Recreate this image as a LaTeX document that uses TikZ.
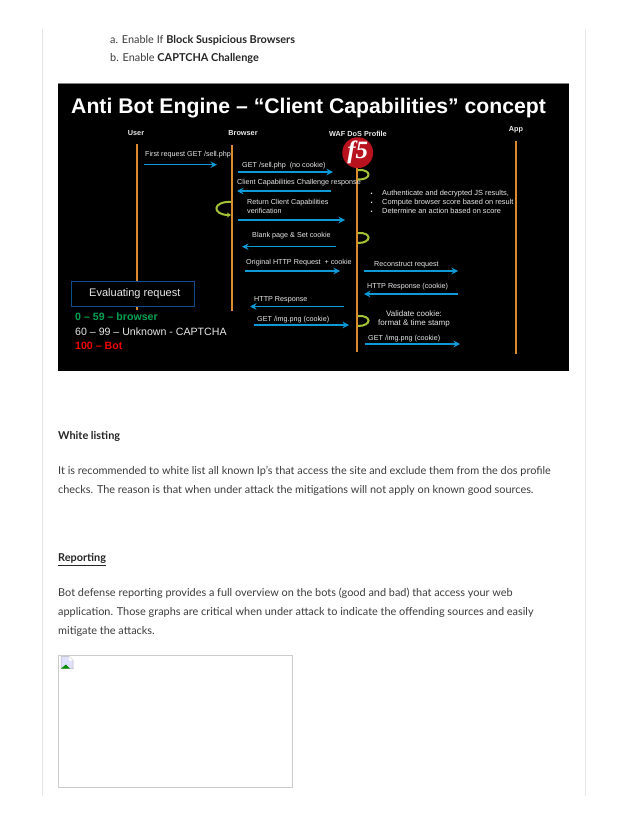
\documentclass[tikz,border=0pt]{standalone}
\usepackage{fontspec}
\setmainfont{Lato}
\newfontfamily\slidefont{Liberation Sans}
\newfontfamily\logofont{Liberation Serif}
\usepackage{xcolor}
\usetikzlibrary{arrows.meta}
\definecolor{bodygray}{HTML}{3C3C3C}
\definecolor{marginline}{HTML}{E6E6E6}
\definecolor{framegray}{HTML}{CCCCCC}
\definecolor{lifeorange}{HTML}{DB8A2E}
\definecolor{msgblue}{HTML}{0E9AD7}
\definecolor{loopgreen}{HTML}{A3C234}
\definecolor{boxblue}{HTML}{0B4C8C}
\definecolor{scoregreen}{HTML}{00A24F}
\definecolor{scorered}{HTML}{F00000}
\definecolor{logored}{HTML}{B8121F}
\definecolor{slidetext}{HTML}{E8E8E8}

\begin{document}
\begin{tikzpicture}[
    x=1pt, y=-1pt,
    bodytext/.style={anchor=base west, inner sep=0pt, text=bodygray, font=\fontsize{10.9}{13}\selectfont},
    bodyhead/.style={anchor=base west, inner sep=0pt, text=black!85, font=\fontsize{10.9}{13}\selectfont\bfseries},
    actor/.style={inner sep=0pt, text=slidetext, font=\slidefont\fontsize{7.3}{8}\selectfont\bfseries},
    msglabel/.style={anchor=base west, inner sep=0pt, text=slidetext, font=\slidefont\fontsize{7.2}{9}\selectfont},
    notelabel/.style={anchor=base west, inner sep=0pt, text=slidetext, font=\slidefont\fontsize{7.4}{9}\selectfont},
    score/.style={anchor=base west, inner sep=0pt, font=\slidefont\fontsize{10.6}{13}\selectfont},
    lifeline/.style={lifeorange, line width=2pt},
    msg/.style={-{Stealth[length=6.5pt, width=6.5pt]}, msgblue, line width=1.5pt},
    selfloop/.style={loopgreen, line width=2pt},
]
    \useasboundingbox (0,0) rectangle (638,826);
    \fill[white] (0,0) rectangle (638,826);

    % page margins
    \coordinate (marginLa) at (42.5,29);
    \coordinate (marginLb) at (42.5,796);
    \coordinate (marginRa) at (585,29);
    \coordinate (marginRb) at (585,796);
    \draw[marginline, line width=0.8pt] (marginLa) -- (marginLb);
    \draw[marginline, line width=0.8pt] (marginRa) -- (marginRb);

    % list items
    \node[bodytext] (itema) at (110,43.3) {a. Enable If \textcolor{black!85}{\bfseries Block Suspicious Browsers}};
    \node[bodytext] (itemb) at (110,62) {b. Enable \textcolor{black!85}{\bfseries CAPTCHA Challenge}};

    % slide
    \fill[black] (58,83.5) rectangle (569,371);
    \draw[gray, line width=0.6pt] (58,83.5) -- (569,83.5);
    \node[anchor=base west, inner sep=0pt, text=white, font=\slidefont\fontsize{21.2}{24}\selectfont\bfseries] (title) at (71,114) {Anti Bot Engine – “Client Capabilities” concept};

    \node[actor] (user) at (136,133) {User};
    \node[actor] (browser) at (243,133.5) {Browser};
    \node[actor] (waf) at (358,134) {WAF DoS Profile};
    \node[actor] (app) at (516,130) {App};

    \coordinate (userTop) at (136.5,144);
    \coordinate (userEnd) at (136.5,310);
    \coordinate (browserTop) at (232,145);
    \coordinate (browserEnd) at (232,311);
    \coordinate (wafTop) at (357,160);
    \coordinate (wafEnd) at (357,352);
    \coordinate (appTop) at (515.5,141);
    \coordinate (appEnd) at (515.5,354);
    \draw[lifeline] (userTop) -- (userEnd);
    \draw[lifeline] (browserTop) -- (browserEnd);
    \draw[lifeline] (wafTop) -- (wafEnd);
    \draw[lifeline] (appTop) -- (appEnd);

    \node[circle, fill=logored, minimum size=28.5pt, inner sep=0pt, text=white, font=\logofont\fontsize{25}{25}\selectfont\bfseries\itshape] (logo) at (357.7,152.7) {f5};

    % messages
    \node[msglabel] (m1) at (145,157) {First request GET /sell.php};
    \coordinate (m1a) at (144,164.7);
    \coordinate (m1b) at (217,164.7);
    \draw[msg] (m1a) -- (m1b);

    \node[msglabel] (m2) at (242,167.3) {GET /sell.php\ \ (no cookie)};
    \coordinate (m2a) at (238,172);
    \coordinate (m2b) at (333,172);
    \draw[msg] (m2a) -- (m2b);

    \node[msglabel] (m3) at (237,184.5) {Client Capabilities Challenge response};
    \coordinate (m3a) at (331,191);
    \coordinate (m3b) at (237,191);
    \draw[msg] (m3a) -- (m3b);

    \node[msglabel] (m4) at (247,205) {Return Client Capabilities};
    \node[msglabel] (m4b) at (247,214) {verification};
    \coordinate (m4a) at (238,220);
    \coordinate (m4c) at (345,220);
    \draw[msg] (m4a) -- (m4c);

    \node[msglabel] (m5) at (252,237.5) {Blank page \& Set cookie};
    \coordinate (m5a) at (336,246.7);
    \coordinate (m5b) at (242,246.7);
    \draw[msg] (m5a) -- (m5b);

    \node[msglabel] (m6) at (246,264.5) {Original HTTP Request\ \ + cookie};
    \coordinate (m6a) at (245,271);
    \coordinate (m6b) at (340,271);
    \draw[msg] (m6a) -- (m6b);

    \node[msglabel] (m7) at (374,266) {Reconstruct request};
    \coordinate (m7a) at (364,271);
    \coordinate (m7b) at (458,271);
    \draw[msg] (m7a) -- (m7b);

    \node[msglabel] (m8) at (367,288.5) {HTTP Response (cookie)};
    \coordinate (m8a) at (458,294);
    \coordinate (m8b) at (364,294);
    \draw[msg] (m8a) -- (m8b);

    \node[msglabel] (m9) at (254,301) {HTTP Response};
    \coordinate (m9a) at (344,306.5);
    \coordinate (m9b) at (250,306.5);
    \draw[msg] (m9a) -- (m9b);

    \node[msglabel] (m10) at (257,321.5) {GET /img.png (cookie)};
    \coordinate (m10a) at (254,325);
    \coordinate (m10b) at (349,325);
    \draw[msg] (m10a) -- (m10b);

    \node[msglabel] (m11) at (368,340.5) {GET /img.png (cookie)};
    \coordinate (m11a) at (365,344);
    \coordinate (m11b) at (460,344);
    \draw[msg] (m11a) -- (m11b);

    % notes beside the waf line
    \node[notelabel, anchor=base, font=\slidefont\fontsize{8}{9}\selectfont] (validatea) at (414,316.5) {Validate cookie:};
    \node[notelabel, anchor=base, font=\slidefont\fontsize{8}{9}\selectfont] (validateb) at (414,325.8) {format \& time stamp};
    \node[notelabel] (noteone) at (382,195.5) {Authenticate and decrypted JS results,};
    \node[notelabel] (notetwo) at (382,204.5) {Compute browser score based on result};
    \node[notelabel] (notethree) at (382,213.5) {Determine an action based on score};
    \fill[slidetext] (371.5,193.3) circle (0.8);
    \fill[slidetext] (371.5,202.3) circle (0.8);
    \fill[slidetext] (371.5,211.3) circle (0.8);

    % self loops
    \draw[selfloop, -{Stealth[length=4pt, width=5pt]}] (231,202) .. controls (212,201) and (212,215) .. (231,215);
    \draw[selfloop] (358,170) .. controls (372,169) and (372,180) .. (358,179.5);
    \draw[selfloop] (358,233) .. controls (372,232) and (372,243) .. (358,243);
    \draw[selfloop] (358,316) .. controls (372,315) and (372,326) .. (358,326);

    % evaluation box
    \node[rectangle, draw=boxblue, fill=black, line width=1.2pt, minimum width=123pt, minimum height=24.5pt, inner sep=0pt, text=slidetext, font=\slidefont\fontsize{11}{13}\selectfont] (evalbox) at (133.3,294) {\hspace{3pt}Evaluating request};
    \node[score, text=scoregreen, font=\slidefont\fontsize{10.6}{13}\selectfont\bfseries] (s1) at (75,320.5) {0 – 59 – browser};
    \node[score, text=slidetext] (s2) at (75,335) {60 – 99 – Unknown - CAPTCHA};
    \node[score, text=scorered, font=\slidefont\fontsize{10.6}{13}\selectfont\bfseries] (s3) at (75,349.5) {100 – Bot};

    % body text
    \node[bodyhead] (white) at (58,439.3) {White listing};
    \node[bodytext] (p1a) at (58,474) {It is recommended to white list all known Ip’s that access the site and exclude them from the dos profile};
    \node[bodytext] (p1b) at (58,493) {checks. The reason is that when under attack the mitigations will not apply on known good sources.};
    \node[bodyhead] (report) at (58,561.5) {\underline{Reporting}};
    \node[bodytext] (p2a) at (58,596) {Bot defense reporting provides a full overview on the bots (good and bad) that access your web};
    \node[bodytext] (p2b) at (58,615) {application. Those graphs are critical when under attack to indicate the offending sources and easily};
    \node[bodytext] (p2c) at (58,634) {mitigate the attacks.};

    % missing image box
    \draw[framegray, line width=0.8pt] (58.5,655.5) rectangle (292.5,787);
    \fill[blue!12, draw=gray!60, line width=0.5pt] (61,656.5) -- (69,656.5) -- (73,660.5) -- (73,668.5) -- (61,668.5) -- cycle;
    \fill[white] (69,656.5) -- (73,660.5) -- (69,660.5) -- cycle;
    \fill[green!55!black] (61,668.5) -- (66,664.5) -- (70,668.5) -- cycle;
\end{tikzpicture}
\end{document}
